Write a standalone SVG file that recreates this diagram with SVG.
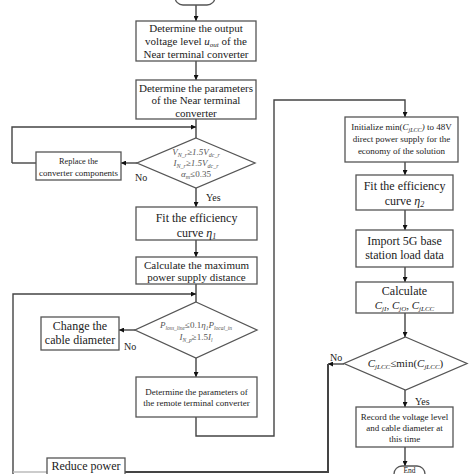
<svg xmlns="http://www.w3.org/2000/svg" width="474" height="474" viewBox="0 0 474 474">
<defs>
<marker id="ah" viewBox="0 0 10 10" refX="10" refY="5" markerWidth="5" markerHeight="5" orient="auto" markerUnits="userSpaceOnUse">
<path d="M0,0 L10,5 L0,10 z" fill="#111"/>
</marker>
</defs>
<style>
.box{fill:#fff;stroke:#555;stroke-width:1.3}
.ln{fill:none;stroke:#444;stroke-width:1.4}
.t{font-family:"Liberation Serif",serif;fill:#222;text-anchor:middle}
.big{font-size:12px}
.mid{font-size:11px}
.sm{font-size:9px}
.xs{font-size:8.3px}
.math{font-family:"Liberation Serif",serif;fill:#555;font-style:italic;font-size:9px;text-anchor:middle}
.lbl{font-family:"Liberation Serif",serif;fill:#222;font-size:10px}
</style>
<rect width="474" height="474" fill="#fff"/>
<g id="connectors">
<path class="ln" d="M196,5 V21" marker-end="url(#ah)"/>
<path class="ln" d="M196,61 V80" marker-end="url(#ah)"/>
<path class="ln" d="M196,119 V138"/>
<path class="ln" d="M12,163 V127 H196" marker-end="url(#ah)"/>
<path class="ln" d="M36,163 H12"/>
<path class="ln" d="M137,163 H121" marker-end="url(#ah)"/>
<path class="ln" d="M196,188 V207" marker-end="url(#ah)"/>
<path class="ln" d="M196,240 V257" marker-end="url(#ah)"/>
<path class="ln" d="M196,284 V302"/>
<path class="ln" d="M13,474 V294 H196" marker-end="url(#ah)"/>
<path class="ln" d="M135,330 H119" marker-end="url(#ah)"/>
<path class="ln" d="M196,358 V377" marker-end="url(#ah)"/>
<path class="ln" d="M196,417 V436 H274 V100 H405 V117" marker-end="url(#ah)"/>
<path class="ln" d="M405,162 V175" marker-end="url(#ah)"/>
<path class="ln" d="M405,210 V230" marker-end="url(#ah)"/>
<path class="ln" d="M405,267 V282" marker-end="url(#ah)"/>
<path class="ln" d="M405,313 V337" marker-end="url(#ah)"/>
<path class="ln" d="M344,364 H328" marker-end="url(#ah)"/>
<path class="ln" d="M328,364 V472 H125" style="stroke-width:2"/>
<path class="ln" d="M13,472 H47" style="stroke:#bbb"/>
<path class="ln" d="M405,390 V407" marker-end="url(#ah)"/>
<path class="ln" d="M405,447 V466" marker-end="url(#ah)"/>
</g>
<g id="start"><rect class="box" x="175" y="-15" width="40" height="20" rx="8"/></g>
<g id="n1">
<rect class="box" x="136" y="21" width="120" height="40"/>
<text class="t mid" x="196" y="32">Determine the output</text>
<text class="t mid" x="196" y="45">voltage level <tspan font-style="italic">u<tspan font-size="7" dy="2">out</tspan></tspan><tspan dy="-2"> of the</tspan></text>
<text class="t mid" x="196" y="58">Near terminal converter</text>
</g>
<g id="n2">
<rect class="box" x="136" y="80" width="120" height="39"/>
<text class="t mid" x="196" y="92" textLength="114" lengthAdjust="spacingAndGlyphs">Determine the parameters</text>
<text class="t mid" x="196" y="104">of the Near terminal</text>
<text class="t mid" x="196" y="117">converter</text>
</g>
<g id="d1">
<polygon class="box" points="196,138 255,163 196,188 137,163"/>
<text class="math" x="196" y="155">V<tspan font-size="6" dy="2">N_r</tspan><tspan dy="-2">≥1.5V</tspan><tspan font-size="6" dy="2">dc_r</tspan></text>
<text class="math" x="196" y="166">I<tspan font-size="6" dy="2">N_r</tspan><tspan dy="-2">≥1.5V</tspan><tspan font-size="6" dy="2">dc_r</tspan></text>
<text class="math" x="196" y="177">α<tspan font-size="6" dy="2">m</tspan><tspan dy="-2" font-style="normal">≤0.35</tspan></text>
</g>
<g id="n3">
<rect class="box" x="36" y="152" width="85" height="28"/>
<text class="t xs" x="78.5" y="164">Replace the</text>
<text class="t xs" x="78.5" y="176" textLength="79" lengthAdjust="spacingAndGlyphs">converter components</text>
</g>
<text class="lbl" x="135" y="181">No</text>
<text class="lbl" x="206" y="201">Yes</text>
<g id="n4">
<rect class="box" x="136" y="207" width="121" height="33"/>
<text class="t big" x="196.5" y="222">Fit the efficiency</text>
<text class="t big" x="196.5" y="237">curve <tspan font-style="italic">η<tspan font-size="8" dy="2">1</tspan></tspan></text>
</g>
<g id="n5">
<rect class="box" x="136" y="257" width="121" height="27"/>
<text class="t mid" x="196.5" y="269">Calculate the maximum</text>
<text class="t mid" x="196.5" y="281">power supply distance</text>
</g>
<g id="d2">
<polygon class="box" points="196,302 257,330 196,358 135,330"/>
<text class="math" x="196" y="328">P<tspan font-size="5.5" dy="2">loss_line</tspan><tspan dy="-2" font-style="normal">≤0.1</tspan>η<tspan font-size="5.5" dy="2">1</tspan><tspan dy="-2">P</tspan><tspan font-size="5.5" dy="2">local_in</tspan></text>
<text class="math" x="196" y="340">I<tspan font-size="5.5" dy="2">N_p</tspan><tspan dy="-2" font-style="normal">≥1.5</tspan>I<tspan font-size="5.5" dy="2">l</tspan></text>
</g>
<g id="n6">
<rect class="box" x="41" y="317" width="78" height="33"/>
<text class="t big" x="80" y="330">Change the</text>
<text class="t big" x="80" y="344">cable diameter</text>
</g>
<text class="lbl" x="124" y="350">No</text>
<g id="n7">
<rect class="box" x="136" y="377" width="121" height="40"/>
<text class="t sm" x="196.5" y="395">Determine the parameters of</text>
<text class="t sm" x="196.5" y="406">the remote terminal converter</text>
</g>
<g id="n8">
<rect class="box" x="47" y="458" width="78" height="24"/>
<text class="t big" x="86" y="470">Reduce power</text>
</g>
<g id="n9">
<rect class="box" x="345" y="117" width="113" height="45"/>
<text class="t sm" x="401.5" y="130">Initialize min(<tspan font-style="italic">C<tspan font-size="6" dy="2">jLCC</tspan><tspan dy="-2">)</tspan></tspan> to 48V</text>
<text class="t sm" x="401.5" y="142">direct power supply for the</text>
<text class="t sm" x="401.5" y="154">economy of the solution</text>
</g>
<g id="n10">
<rect class="box" x="356" y="175" width="97" height="35"/>
<text class="t big" x="404.5" y="190">Fit the efficiency</text>
<text class="t big" x="404.5" y="205">curve <tspan font-style="italic">η<tspan font-size="8" dy="2">2</tspan></tspan></text>
</g>
<g id="n11">
<rect class="box" x="356" y="230" width="97" height="37"/>
<text class="t big" x="404.5" y="245">Import 5G base</text>
<text class="t big" x="404.5" y="259">station load data</text>
</g>
<g id="n12">
<rect class="box" x="356" y="282" width="97" height="31"/>
<text class="t big" x="404.5" y="295">Calculate</text>
<text class="t mid" x="404.5" y="309" font-style="italic">C<tspan font-size="7" dy="2">jI</tspan><tspan dy="-2" font-style="normal">, </tspan>C<tspan font-size="7" dy="2">jO</tspan><tspan dy="-2" font-style="normal">, </tspan>C<tspan font-size="7" dy="2">jLCC</tspan></text>
</g>
<g id="d3">
<polygon class="box" points="405.5,337 467,363.5 405.5,390 344,363.5"/>
<text class="t mid" x="405.5" y="367"><tspan font-style="italic">C<tspan font-size="7" dy="2">jLCC</tspan></tspan><tspan dy="-2">≤min(</tspan><tspan font-style="italic">C<tspan font-size="7" dy="2">jLCC</tspan></tspan><tspan dy="-2">)</tspan></text>
</g>
<text class="lbl" x="330" y="361">No</text>
<text class="lbl" x="415" y="405">Yes</text>
<g id="n13">
<rect class="box" x="356" y="407" width="97" height="40"/>
<text class="t sm" x="404.5" y="420">Record the voltage level</text>
<text class="t sm" x="404.5" y="431">and cable diameter at</text>
<text class="t sm" x="404.5" y="442">this time</text>
</g>
<g id="end">
<rect class="box" x="394" y="466" width="31" height="20" rx="8"/>
<text class="t" font-size="7.5" x="409.5" y="473">End</text>
</g>
</svg>
